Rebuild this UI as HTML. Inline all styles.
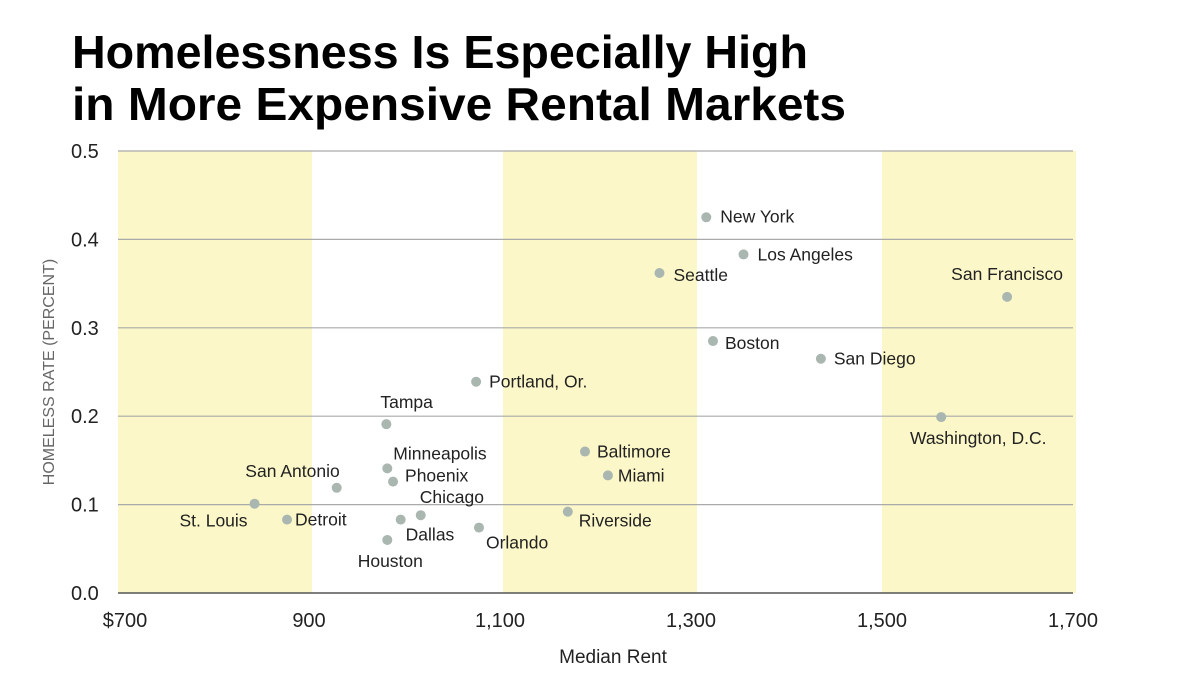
<!DOCTYPE html>
<html><head><meta charset="utf-8"><style>
body{margin:0;background:#fff;}
svg{display:block;font-family:"Liberation Sans",sans-serif;}
</style></head><body>
<svg id="chart" width="1188" height="692" viewBox="0 0 1188 692">
<text x="72" y="68" font-size="46" font-weight="bold" textLength="736" lengthAdjust="spacingAndGlyphs" fill="#000">Homelessness Is Especially High</text>
<text x="72" y="120" font-size="46" font-weight="bold" textLength="774" lengthAdjust="spacingAndGlyphs" fill="#000">in More Expensive Rental Markets</text>
<g id="bands"></g><g id="grid"></g><g id="marks"></g>
<text transform="translate(54,372) rotate(-90)" text-anchor="middle" font-size="16" fill="#666">HOMELESS RATE (PERCENT)</text>
<text x="613" y="663" text-anchor="middle" font-size="19" fill="#222">Median Rent</text>
</svg>
<script>
const cities=["New York","Los Angeles","Seattle","San Francisco","Boston","San Diego","Washington, D.C.","Portland, Or.","Tampa","Baltimore","Miami","Minneapolis","Phoenix","San Antonio","St. Louis","Detroit","Chicago","Dallas","Orlando","Riverside","Houston"];
const rents=[1316,1355,1267,1631,1323,1436,1562,1075,981,1189,1213,982,988,929,843,877,1017,996,1078,1171,982];
const rates=[0.425,0.383,0.362,0.335,0.285,0.265,0.199,0.239,0.191,0.160,0.133,0.141,0.126,0.119,0.101,0.083,0.088,0.083,0.074,0.092,0.060];
const xTicks=[700,900,1100,1300,1500,1700];
const xTickLabels=["$700","900","1,100","1,300","1,500","1,700"];
const yTicks=[0,0.1,0.2,0.3,0.4,0.5];
const yTickLabels=["0.0","0.1","0.2","0.3","0.4","0.5"];
const bands=[[700,900],[1100,1300],[1500,1700]];
// label placement: [dx, dy, anchor]
const lab={"New York":[14,5,"start"],"Los Angeles":[14,6,"start"],"Seattle":[14,8,"start"],"San Francisco":[0,-17,"middle"],"Boston":[12,8,"start"],"San Diego":[13,6,"start"],"Washington, D.C.":[37,27,"middle"],"Portland, Or.":[13,6,"start"],"Tampa":[-6,-16,"start"],"Baltimore":[12,6,"start"],"Miami":[10,6,"start"],"Minneapolis":[6,-9,"start"],"Phoenix":[12,0,"start"],"San Antonio":[3,-11,"end"],"St. Louis":[-7,23,"end"],"Detroit":[8,6,"start"],"Chicago":[-1,-12,"start"],"Dallas":[5,21,"start"],"Orlando":[7,21,"start"],"Riverside":[11,15,"start"],"Houston":[3,27,"middle"]};
const X=v=>118+(v-700)*0.955, Y=v=>593-v*884;
const NS="http://www.w3.org/2000/svg";
function mk(t,p,a){const e=document.createElementNS(NS,t);for(const k in a)e.setAttribute(k,a[k]);p.appendChild(e);return e;}
const gb=document.getElementById('bands'),gg=document.getElementById('grid'),gm=document.getElementById('marks');
bands.forEach(b=>{const x0=X(b[0])+(b[0]==1100?3:0);const r=mk('rect',gb,{x:x0,y:Y(0.5),width:X(b[1])-X(b[0])+3,height:Y(0)-Y(0.5),fill:'#fbf7c8'});

});
yTicks.forEach((t,i)=>{const l=mk('line',gg,{x1:X(700),x2:X(1700),y1:Y(t),y2:Y(t),stroke:i==0?'#555':'#aaa','stroke-width':i==0?1.5:1.2});


const tx=mk('text',gg,{x:71,y:Y(t)+7,'font-size':20,fill:'#222'});tx.textContent=yTickLabels[i];

});
xTicks.forEach((t,i)=>{const tx=mk('text',gg,{x:X(t)+(i==0?7:0),y:627,'font-size':20,fill:'#222','text-anchor':'middle'});tx.textContent=xTickLabels[i];

});
cities.forEach((c,i)=>{const cx=X(rents[i]),cy=Y(rates[i]);
const d=mk('circle',gm,{cx:cx,cy:cy,r:5,fill:'#aab6b0'});


const o=lab[c]||[10,6,'start'];
const t=mk('text',gm,{x:cx+o[0],y:cy+o[1],'font-size':17.5,fill:'#222','text-anchor':o[2]});t.textContent=c;

});
</script>
</body></html>
